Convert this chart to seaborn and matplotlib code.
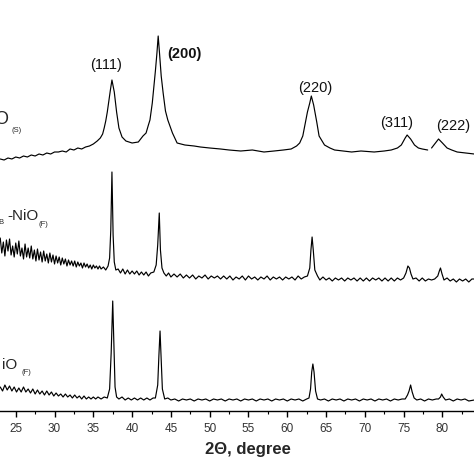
import numpy as np
import pandas as pd
import matplotlib
matplotlib.use("Agg")
import matplotlib.pyplot as plt
from matplotlib.ticker import MultipleLocator
import seaborn as sns

# XRD patterns (2-theta in degree, intensity in a.u.)
theta_s_a = [23.0, 23.5, 24.0, 24.5, 25.0, 25.5, 26.0, 26.5, 27.0, 27.5, 28.0, 28.5,
             29.0, 29.5, 30.0, 30.5, 31.0, 31.5, 32.0, 32.5, 33.0, 33.5, 34.0, 34.5,
             35.0, 35.5, 35.9, 36.2, 36.4, 36.6, 36.8, 37.0, 37.2, 37.4, 37.7, 38.0,
             38.3, 38.7, 39.2, 40.0, 40.8, 41.4, 41.8, 42.1, 42.3, 42.6, 42.8, 43.0,
             43.2, 43.36, 43.55, 43.75, 44.0, 44.3, 44.6, 45.2, 45.8, 46.8, 48.0, 48.8,
             50.0, 51.4, 52.5, 54.0, 55.5, 57.0, 58.3, 59.5, 60.5, 61.2, 61.6, 62.0,
             62.2, 62.6, 62.9, 63.1, 63.4, 63.8, 64.1, 64.8, 65.5, 66.1, 67.2, 68.3,
             69.5, 71.2, 72.5, 73.4, 74.2, 74.7, 75.2, 75.45, 75.9, 76.4, 76.9, 77.4,
             78.1]
int_s_a = [252, 251, 253, 252, 254, 253, 255, 254, 256, 255, 257, 256,
           258, 257, 259, 259, 260, 259, 262, 261, 263, 262, 264, 265,
           267, 270, 273, 277, 283, 290, 299, 310, 321, 331, 319, 299,
           283, 274, 270, 268, 269, 275, 278, 286, 291, 308, 324, 340,
           358, 375, 356, 335, 318, 300, 291, 278, 268, 266, 265, 264,
           263, 262, 261, 260, 261, 259, 260, 261, 262, 265, 268, 275,
           283, 299, 308, 315, 306, 289, 275, 266, 263, 261, 260, 259,
           260, 259, 260, 261, 263, 266, 273, 276, 272, 266, 263, 262,
           261]
theta_s_b = [78.6, 79.2, 79.5, 80.0, 80.6, 81.2, 81.9, 83.0, 84.1]
int_s_b = [263, 269, 272, 268, 263, 261, 259, 258, 257]

theta_f1 = [23.0, 23.2, 23.4, 23.6, 23.8, 24.0, 24.2, 24.4, 24.6, 24.8, 25.0, 25.2,
            25.4, 25.6, 25.8, 26.0, 26.2, 26.4, 26.6, 26.8, 27.0, 27.2, 27.4, 27.6,
            27.8, 28.0, 28.2, 28.4, 28.6, 28.8, 29.0, 29.2, 29.4, 29.6, 29.8, 30.0,
            30.2, 30.4, 30.6, 30.8, 31.0, 31.2, 31.4, 31.6, 31.8, 32.0, 32.2, 32.4,
            32.6, 32.8, 33.0, 33.2, 33.4, 33.6, 33.8, 34.0, 34.2, 34.4, 34.6, 34.8,
            35.0, 35.2, 35.4, 35.6, 35.8, 36.0, 36.3, 36.6, 36.9, 37.1, 37.25, 37.4,
            37.55, 37.7, 37.9, 38.2, 38.5, 38.8, 39.1, 39.4, 39.7, 40.0, 40.3, 40.6,
            40.9, 41.2, 41.5, 41.8, 42.1, 42.4, 42.8, 43.1, 43.3, 43.5, 43.65, 43.85,
            44.1, 44.4, 44.7, 45.0, 45.4, 45.8, 46.2, 46.6, 47.0, 47.4, 47.8, 48.2,
            48.6, 49.0, 49.4, 49.8, 50.2, 50.6, 51.0, 51.4, 51.8, 52.2, 52.6, 53.0,
            53.4, 53.8, 54.2, 54.6, 55.0, 55.4, 55.8, 56.2, 56.6, 57.0, 57.4, 57.8,
            58.2, 58.6, 59.0, 59.4, 59.8, 60.2, 60.6, 61.0, 61.4, 61.8, 62.2, 62.6,
            62.9, 63.05, 63.2, 63.35, 63.55, 63.9, 64.2, 64.6, 65.0, 65.4, 65.8, 66.2,
            66.6, 67.0, 67.4, 67.8, 68.2, 68.6, 69.0, 69.4, 69.8, 70.2, 70.6, 71.0,
            71.4, 71.8, 72.2, 72.6, 73.0, 73.4, 73.8, 74.2, 74.6, 75.0, 75.3, 75.55,
            75.75, 75.95, 76.2, 76.6, 77.0, 77.4, 77.8, 78.2, 78.6, 79.0, 79.4, 79.6,
            79.75, 79.95, 80.2, 80.6, 81.0, 81.4, 81.8, 82.2, 82.6, 83.0, 83.4, 83.8,
            84.1]
int_f1 = [173, 158, 169, 155, 171, 160, 172, 156, 165, 154, 168, 157,
          170, 155, 163, 152, 167, 154, 163, 153, 165, 152, 161, 150,
          162, 151, 159, 149, 160, 150, 157, 148, 158, 149, 156, 147,
          155, 148, 154, 146, 153, 147, 152, 145, 151, 146, 150, 145,
          150, 144, 149, 145, 148, 143, 148, 144, 147, 143, 146, 142,
          146, 143, 145, 142, 145, 142, 144, 141, 145, 153, 181, 239,
          176, 149, 141, 142, 138, 142, 137, 141, 137, 140, 137, 140,
          136, 139, 136, 139, 135, 138, 139, 146, 166, 198, 161, 143,
          138, 135, 138, 134, 137, 134, 137, 133, 136, 133, 136, 132,
          135, 133, 136, 132, 135, 133, 135, 132, 135, 132, 135, 131,
          134, 132, 135, 131, 135, 132, 134, 131, 134, 132, 135, 131,
          134, 132, 134, 131, 134, 132, 134, 131, 135, 132, 134, 135,
          143, 161, 174, 161, 141, 135, 131, 134, 131, 133, 130, 133,
          131, 133, 130, 133, 131, 133, 130, 133, 130, 133, 130, 133,
          131, 133, 130, 133, 130, 133, 130, 133, 131, 133, 138, 145,
          143, 137, 132, 133, 130, 133, 130, 132, 131, 132, 135, 140,
          143, 137, 131, 133, 130, 132, 129, 132, 130, 132, 129, 132,
          132]

theta_f2 = [23.0, 23.3, 23.6, 23.9, 24.2, 24.5, 24.8, 25.1, 25.4, 25.7, 26.0, 26.3,
            26.6, 26.9, 27.2, 27.5, 27.8, 28.1, 28.4, 28.7, 29.0, 29.3, 29.6, 29.9,
            30.2, 30.5, 30.8, 31.1, 31.4, 31.7, 32.0, 32.3, 32.6, 32.9, 33.2, 33.5,
            33.8, 34.1, 34.4, 34.7, 35.0, 35.3, 35.6, 36.0, 36.4, 36.8, 37.1, 37.3,
            37.5, 37.65, 37.8, 38.0, 38.3, 38.7, 39.1, 39.5, 39.9, 40.3, 40.7, 41.1,
            41.5, 41.9, 42.3, 42.7, 43.0, 43.3, 43.45, 43.6, 43.75, 43.9, 44.2, 44.6,
            45.0, 45.5, 46.0, 46.5, 47.0, 47.5, 48.0, 48.5, 49.0, 49.5, 50.0, 50.5,
            51.0, 51.5, 52.0, 52.5, 53.0, 53.5, 54.0, 54.5, 55.0, 55.5, 56.0, 56.5,
            57.0, 57.5, 58.0, 58.5, 59.0, 59.5, 60.0, 60.5, 61.0, 61.5, 62.0, 62.5,
            62.8, 63.0, 63.15, 63.3, 63.45, 63.65, 63.9, 64.3, 64.8, 65.3, 65.8, 66.3,
            66.8, 67.3, 67.8, 68.3, 68.8, 69.3, 69.8, 70.3, 70.8, 71.3, 71.8, 72.3,
            72.8, 73.3, 73.8, 74.3, 74.8, 75.2, 75.5, 75.7, 75.9, 76.1, 76.35, 76.7,
            77.2, 77.7, 78.2, 78.7, 79.2, 79.5, 79.75, 79.9, 80.1, 80.4, 80.9, 81.4,
            81.9, 82.4, 82.9, 83.4, 84.1]
int_f2 = [24, 20, 26, 21, 25, 20, 24, 19, 23, 19, 24, 19,
          22, 18, 22, 17, 21, 17, 20, 16, 20, 16, 19, 15,
          18, 15, 17, 14, 17, 14, 16, 13, 16, 13, 15, 12,
          15, 12, 14, 12, 14, 12, 14, 12, 14, 13, 22, 58,
          110, 68, 24, 14, 12, 14, 11, 13, 11, 13, 11, 13,
          11, 13, 11, 13, 13, 26, 55, 80, 52, 22, 12, 13,
          11, 12, 10, 12, 11, 12, 10, 12, 11, 12, 10, 12,
          11, 12, 10, 12, 11, 12, 10, 12, 11, 12, 10, 12,
          11, 12, 10, 12, 11, 12, 10, 12, 11, 12, 10, 12,
          13, 22, 39, 47, 39, 20, 12, 11, 12, 10, 12, 11,
          12, 10, 12, 11, 12, 10, 12, 11, 12, 10, 12, 11,
          12, 10, 12, 11, 12, 12, 16, 20, 26, 19, 13, 11,
          12, 10, 12, 11, 12, 12, 14, 17, 14, 11, 12, 10,
          12, 11, 12, 10, 11]

peak_labels = ["(111)", "(200)", "(220)", "(311)", "(222)"]
peak_label_x = [36.6, 46.7, 63.6, 74.1, 81.35]
peak_label_y = [346, 357, 323, 288, 285]

df = pd.concat([
    pd.DataFrame({"theta": theta_s_a, "intensity": int_s_a, "trace": "S-a"}),
    pd.DataFrame({"theta": theta_s_b, "intensity": int_s_b, "trace": "S-b"}),
    pd.DataFrame({"theta": theta_f1, "intensity": int_f1, "trace": "F1"}),
    pd.DataFrame({"theta": theta_f2, "intensity": int_f2, "trace": "F2"}),
], ignore_index=True)

sns.set_style("white")
plt.rcParams["font.family"] = ["Liberation Sans", "DejaVu Sans"]

fig = plt.figure(figsize=(4.74, 4.74), dpi=100)
ax = fig.add_axes([0, 63 / 474, 1, 411 / 474])

sns.lineplot(data=df, x="theta", y="intensity", units="trace", estimator=None,
             sort=False, color="black", linewidth=0.85, ax=ax)

ax.set_xlim(22.97, 84.07)
ax.set_ylim(0, 411)

for spine in ["left", "top", "right"]:
    ax.spines[spine].set_visible(False)
ax.spines["bottom"].set_color("black")
ax.spines["bottom"].set_linewidth(1.0)
ax.set_yticks([])
ax.set_ylabel("")

ax.xaxis.set_major_locator(MultipleLocator(5))
ax.xaxis.set_minor_locator(MultipleLocator(2.5))
ax.tick_params(axis="x", which="major", direction="out", length=4.5, width=1,
               color="black", labelsize=8.5, labelcolor="#333333", pad=4, bottom=True)
ax.tick_params(axis="x", which="minor", direction="out", length=2.5, width=0.8,
               color="black", bottom=True)

ax.set_xlabel("2Θ, degree", fontsize=12, fontweight="bold")
ax.xaxis.set_label_coords(248 / 474, -0.076)

for lab, px, py in zip(peak_labels, peak_label_x, peak_label_y):
    weight = "bold" if lab == "(200)" else "normal"
    ax.text(px, py, lab, ha="center", va="center", fontsize=10.5,
            fontweight=weight, color="#111111")

# sample labels, cut off by the left edge as in the picture
ax.text(24.0, 291, "O", ha="right", va="center", fontsize=13)
ax.text(24.5, 281, "(S)", ha="left", va="center", fontsize=5.5)
ax.text(23.36, 188, "B", ha="right", va="center", fontsize=5.5)
ax.text(23.87, 195, "-NiO", ha="left", va="center", fontsize=11)
ax.text(27.9, 187, "(F)", ha="left", va="center", fontsize=5.5)
ax.text(25.2, 46, "iO", ha="right", va="center", fontsize=11)
ax.text(25.7, 38, "(F)", ha="left", va="center", fontsize=5.5)

plt.savefig("out.png", dpi=100)
